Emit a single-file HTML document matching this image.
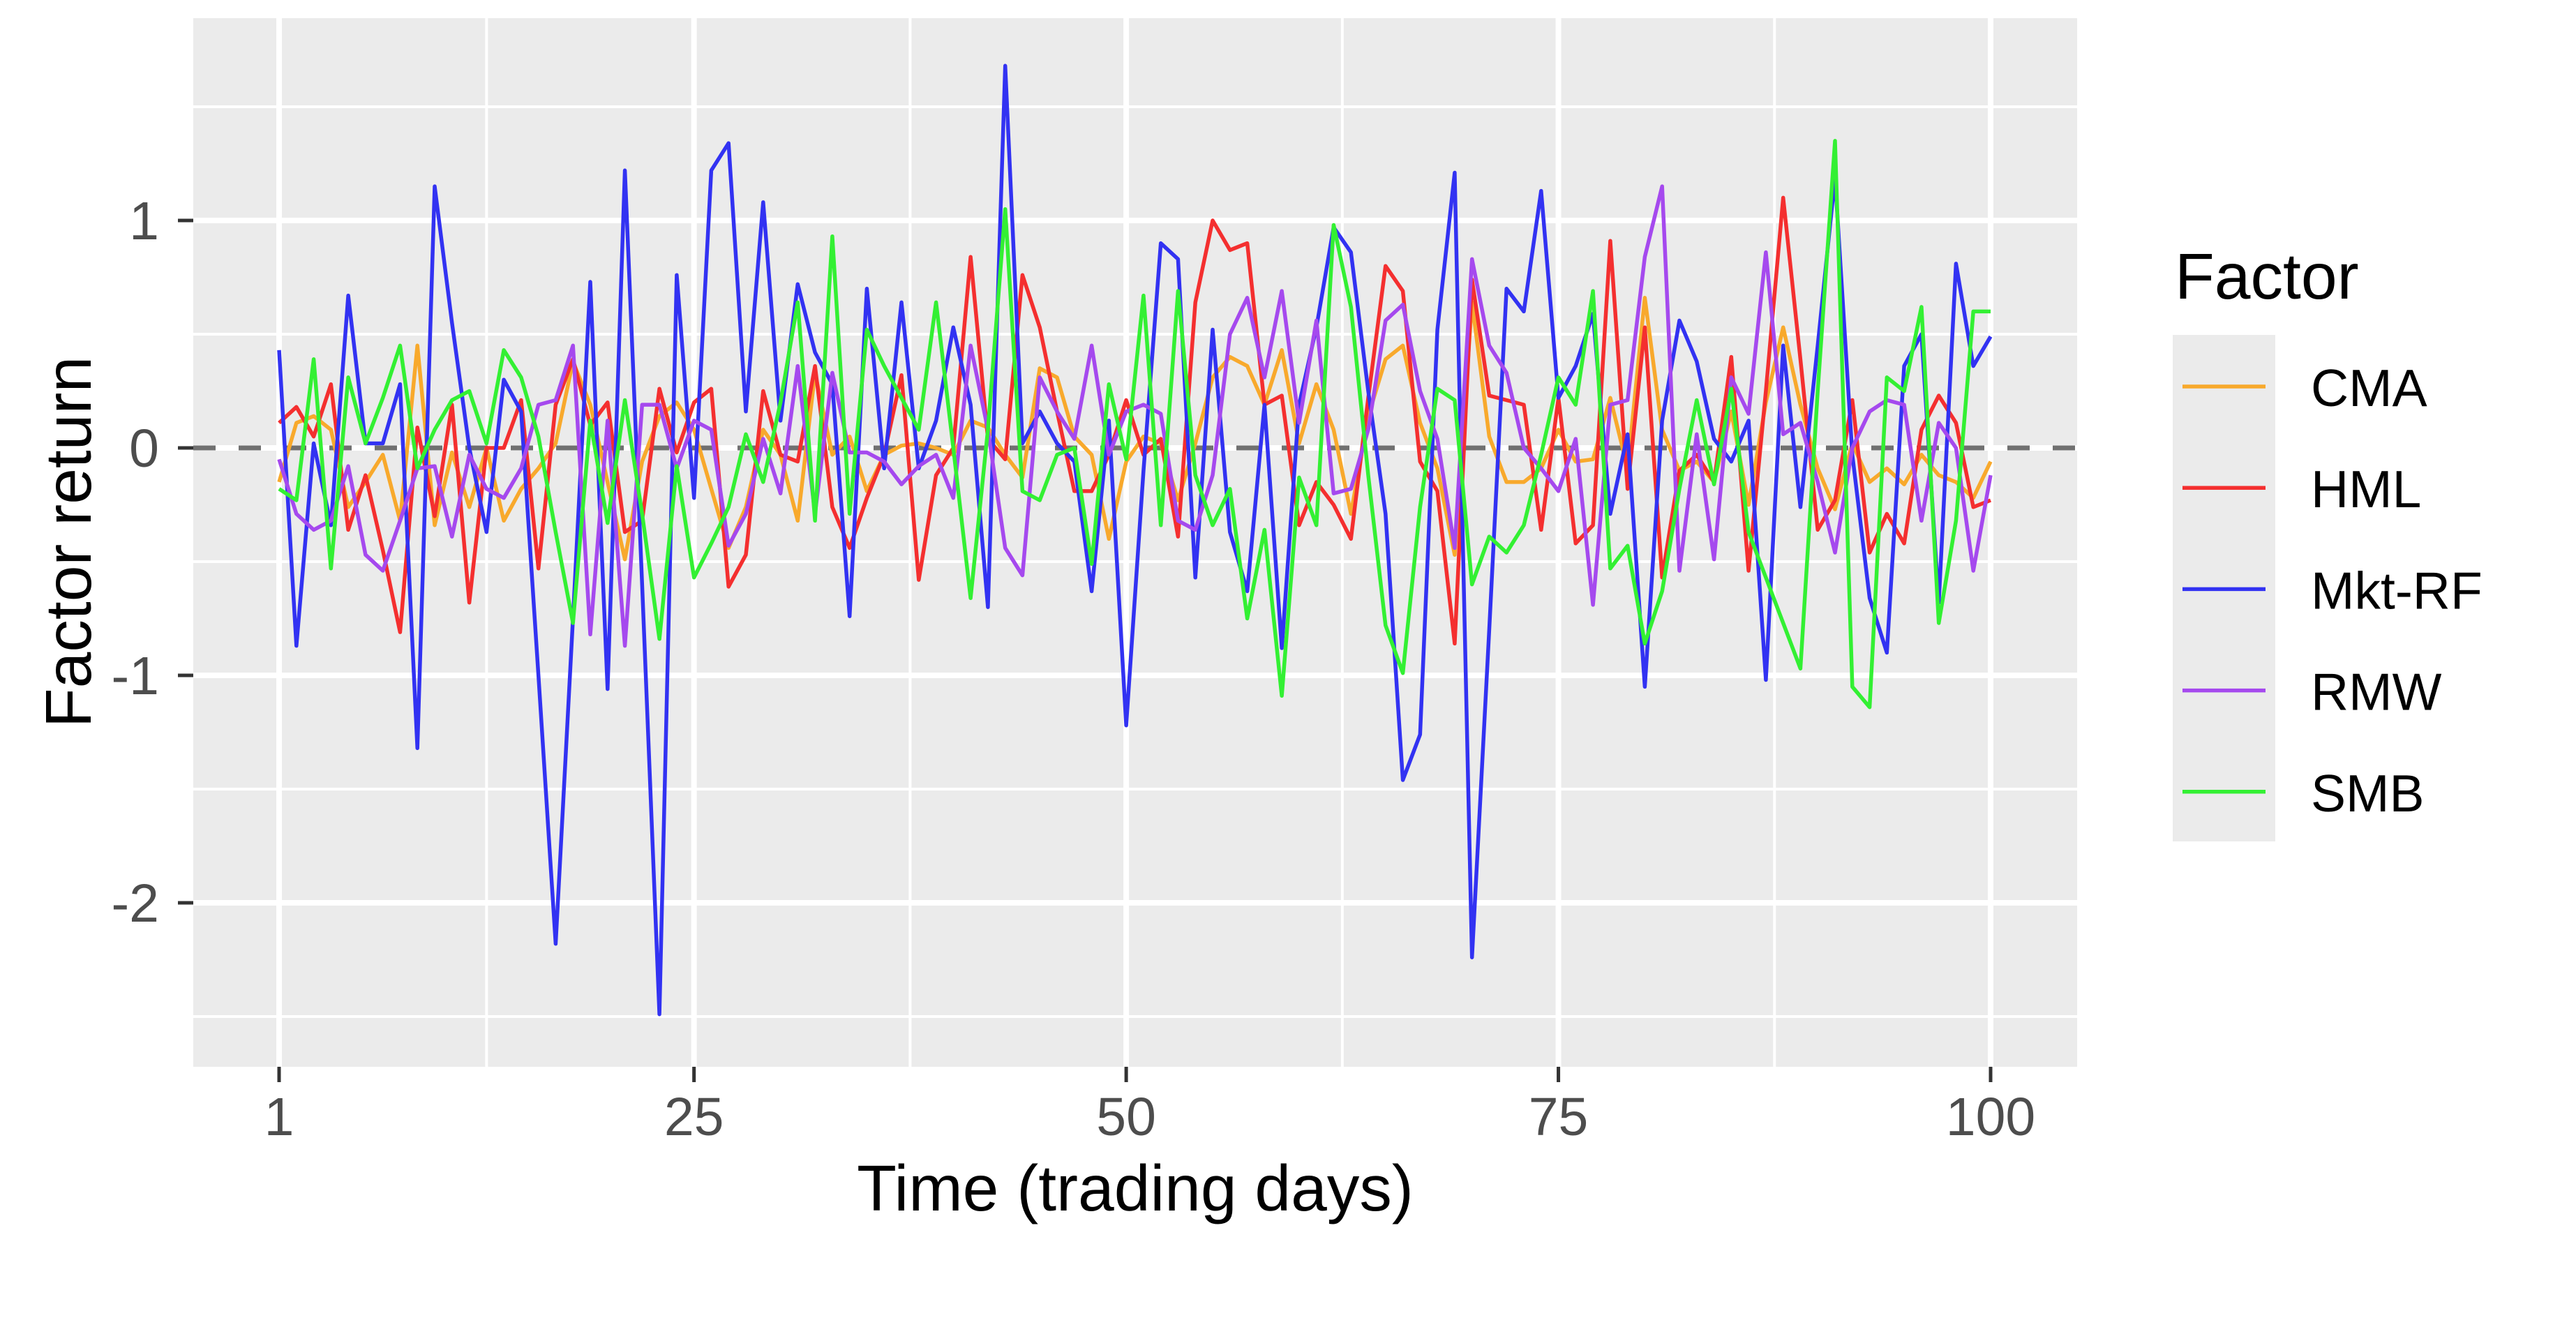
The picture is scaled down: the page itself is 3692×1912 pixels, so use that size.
<!DOCTYPE html>
<html><head><meta charset="utf-8"><title>Factor returns</title>
<style>html,body{margin:0;padding:0;background:#fff;}svg{display:block;font-family:"Liberation Sans",Arial,sans-serif;}</style>
</head><body>
<svg id="chart" width="3692" height="1912" viewBox="0 0 3692 1912" xmlns="http://www.w3.org/2000/svg"></svg>
<script>
const factors = ["CMA","HML","Mkt-RF","RMW","SMB"];
const xTicks = [1,25,50,75,100];
const xTickLabels = ["1","25","50","75","100"];
const yTicks = [1,0,-1,-2];
const yTickLabels = ["1","0","-1","-2"];
const cma = [-0.15,0.11,0.14,0.08,-0.26,-0.15,-0.03,-0.32,0.45,-0.34,-0.02,-0.26,0,-0.32,-0.18,-0.09,0.02,0.38,0.19,-0.15,-0.49,-0.06,0.14,0.2,0.08,-0.18,-0.44,-0.26,0.08,-0.03,-0.32,0.33,-0.03,0.05,-0.19,-0.03,0.01,0.02,0,-0.03,0.12,0.09,-0.03,-0.13,0.35,0.31,0.05,-0.03,-0.4,-0.06,0.05,0.02,-0.23,0.02,0.31,0.4,0.36,0.19,0.43,0.02,0.28,0.08,-0.29,0.14,0.39,0.45,0.11,-0.09,-0.47,0.64,0.05,-0.15,-0.15,-0.09,0.08,-0.06,-0.05,0.22,-0.09,0.66,0.08,-0.1,-0.06,-0.15,0.16,-0.25,0.2,0.53,0.19,-0.09,-0.27,0.02,-0.15,-0.09,-0.16,-0.03,-0.12,-0.15,-0.22,-0.06];
const hml = [0.11,0.18,0.05,0.28,-0.36,-0.12,-0.45,-0.81,0.09,-0.3,0.19,-0.68,0,0,0.21,-0.53,0.19,0.39,0.1,0.2,-0.37,-0.32,0.26,-0.02,0.2,0.26,-0.61,-0.47,0.25,-0.03,-0.06,0.36,-0.26,-0.44,-0.22,-0.03,0.32,-0.58,-0.12,0,0.84,0.04,-0.05,0.76,0.53,0.16,-0.19,-0.19,-0.03,0.21,-0.03,0.04,-0.39,0.64,1.0,0.87,0.9,0.19,0.23,-0.34,-0.15,-0.25,-0.4,0.22,0.8,0.69,-0.06,-0.19,-0.86,0.74,0.23,0.21,0.19,-0.36,0.22,-0.42,-0.34,0.91,-0.18,0.53,-0.57,-0.1,-0.03,-0.15,0.4,-0.54,0.25,1.1,0.39,-0.36,-0.23,0.21,-0.46,-0.29,-0.42,0.08,0.23,0.11,-0.26,-0.23];
const mkt = [0.43,-0.87,0.02,-0.34,0.67,0.02,0.02,0.28,-1.32,1.15,0.55,0,-0.37,0.3,0.16,-1.0,-2.18,-0.75,0.73,-1.06,1.22,-0.6,-2.49,0.76,-0.22,1.22,1.34,0.16,1.08,0.12,0.72,0.42,0.28,-0.74,0.7,-0.09,0.64,-0.09,0.12,0.53,0.19,-0.7,1.68,0.02,0.16,0.02,-0.06,-0.63,0.12,-1.22,-0.1,0.9,0.83,-0.57,0.52,-0.37,-0.63,0.19,-0.88,0.19,0.53,0.97,0.86,0.25,-0.29,-1.46,-1.26,0.52,1.21,-2.24,-0.8,0.7,0.6,1.13,0.22,0.36,0.59,-0.29,0.06,-1.05,0.12,0.56,0.38,0.04,-0.06,0.12,-1.02,0.45,-0.26,0.45,1.19,-0.03,-0.66,-0.9,0.36,0.5,-0.68,0.81,0.36,0.49];
const rmw = [-0.05,-0.29,-0.36,-0.32,-0.08,-0.47,-0.54,-0.32,-0.09,-0.08,-0.39,-0.03,-0.18,-0.22,-0.09,0.19,0.21,0.45,-0.82,0.12,-0.87,0.19,0.19,-0.09,0.12,0.08,-0.43,-0.29,0.04,-0.2,0.36,-0.29,0.33,-0.02,-0.02,-0.06,-0.16,-0.08,-0.03,-0.22,0.45,0.08,-0.44,-0.56,0.31,0.16,0.04,0.45,-0.03,0.16,0.19,0.15,-0.32,-0.36,-0.12,0.5,0.66,0.31,0.69,0.11,0.56,-0.2,-0.18,0.08,0.56,0.63,0.25,0.04,-0.44,0.83,0.45,0.33,0,-0.09,-0.19,0.04,-0.69,0.19,0.21,0.84,1.15,-0.54,0.06,-0.49,0.31,0.15,0.86,0.06,0.11,-0.15,-0.46,0,0.16,0.21,0.19,-0.32,0.11,0,-0.54,-0.12];
const smb = [-0.18,-0.23,0.39,-0.53,0.31,0.02,0.22,0.45,-0.09,0.08,0.21,0.25,0.02,0.43,0.31,0.05,-0.37,-0.77,0.12,-0.33,0.21,-0.29,-0.84,-0.08,-0.57,-0.42,-0.26,0.06,-0.15,0.2,0.64,-0.32,0.93,-0.29,0.52,0.36,0.22,0.08,0.64,0,-0.66,0.08,1.05,-0.19,-0.23,-0.03,0,-0.51,0.28,-0.05,0.67,-0.34,0.69,-0.12,-0.34,-0.18,-0.75,-0.36,-1.09,-0.13,-0.34,0.98,0.62,-0.12,-0.78,-0.99,-0.26,0.26,0.21,-0.6,-0.39,-0.46,-0.34,-0.03,0.31,0.19,0.69,-0.53,-0.43,-0.86,-0.63,-0.18,0.21,-0.16,0.26,-0.37,-0.57,-0.77,-0.97,0.25,1.35,-1.05,-1.14,0.31,0.25,0.62,-0.77,-0.32,0.6,0.6];
const seriesValues = [cma, hml, mkt, rmw, smb];
const colors = ["#f8a92c","#f42f2f","#3232f2","#a549ee","#33f033"];

const NS = "http://www.w3.org/2000/svg";
const svg = document.getElementById("chart");
const P = {l:277, r:2977, t:26, b:1529};
const X0 = 400, DX = (2853-400)/99;
const Y0 = 642, DY = 326;
function xs(d){ return X0 + (d-1)*DX; }
function ys(v){ return Y0 - v*DY; }
function mk(tag, attrs, parent){
  const e = document.createElementNS(NS, tag);
  for (const k in attrs) e.setAttribute(k, attrs[k]);
  (parent||svg).appendChild(e);
  return e;
}

const panel = mk("rect",{x:P.l,y:P.t,width:P.r-P.l,height:P.b-P.t,fill:"#ebebeb"});



const grid = mk("g",{});


[1.5,0.5,-0.5,-1.5,-2.5].forEach(v=>{
  const l = mk("line",{x1:P.l,x2:P.r,y1:ys(v),y2:ys(v),stroke:"#fff","stroke-width":4},grid);
  
  
});
[13,37.5,62.5,87.5].forEach(d=>{
  const l = mk("line",{x1:xs(d),x2:xs(d),y1:P.t,y2:P.b,stroke:"#fff","stroke-width":4},grid);
  
  
});
yTicks.forEach(v=>{
  const l = mk("line",{x1:P.l,x2:P.r,y1:ys(v),y2:ys(v),stroke:"#fff","stroke-width":8},grid);
  
  
});
xTicks.forEach(d=>{
  const l = mk("line",{x1:xs(d),x2:xs(d),y1:P.t,y2:P.b,stroke:"#fff","stroke-width":8},grid);
  
  
});

const zl = mk("line",{x1:P.l,x2:P.r,y1:ys(0),y2:ys(0),stroke:"#707070","stroke-width":7,"stroke-dasharray":"32 33"});



const days = cma.map((_,i)=>i+1);
seriesValues.forEach((vals,si)=>{
  const pts = vals.map((v,i)=>xs(days[i]).toFixed(1)+","+ys(v).toFixed(1)).join(" ");
  const pl = mk("polyline",{points:pts,fill:"none",stroke:colors[si],"stroke-width":5.5,"stroke-linejoin":"round"});
  
  
});

// axes ticks and labels
xTicks.forEach((d,i)=>{
  const t = mk("line",{x1:xs(d),x2:xs(d),y1:P.b,y2:P.b+22,stroke:"#333","stroke-width":5});
  
  
  const tx = mk("text",{x:xs(d),y:1627,"text-anchor":"middle","font-size":77,fill:"#4d4d4d"});
  tx.textContent = xTickLabels[i];
  
  
});
yTicks.forEach((v,i)=>{
  const t = mk("line",{x1:P.l-22,x2:P.l,y1:ys(v),y2:ys(v),stroke:"#333","stroke-width":5});
  
  
  const tx = mk("text",{x:228,y:ys(v)+27,"text-anchor":"end","font-size":77,fill:"#4d4d4d"});
  tx.textContent = yTickLabels[i];
  
  
});

// legend
const lg = mk("g",{});


const kb = mk("rect",{x:3114,y:480,width:147,height:726,fill:"#ebebeb"},lg);


factors.forEach((f,i)=>{
  const cy = 554 + i*145.2;
  const ln = mk("line",{x1:3128,x2:3247,y1:cy,y2:cy,stroke:colors[i],"stroke-width":5.5},lg);
  
  
  const tx = mk("text",{x:3312,y:cy+28,"font-size":75,fill:"#000"},lg);
  tx.textContent = f;
  
  
});
</script>
<svg style="position:absolute;left:0;top:0;pointer-events:none" width="3692" height="1912" xmlns="http://www.w3.org/2000/svg">
<text x="3117" y="428" font-size="93" fill="#000" font-family="Liberation Sans, Arial, sans-serif">Factor</text>
<text x="1627" y="1735" text-anchor="middle" font-size="93" fill="#000" font-family="Liberation Sans, Arial, sans-serif">Time (trading days)</text>
<text x="0" y="0" transform="translate(130,777) rotate(-90)" text-anchor="middle" font-size="93" fill="#000" font-family="Liberation Sans, Arial, sans-serif">Factor return</text>
</svg>
</body></html>
